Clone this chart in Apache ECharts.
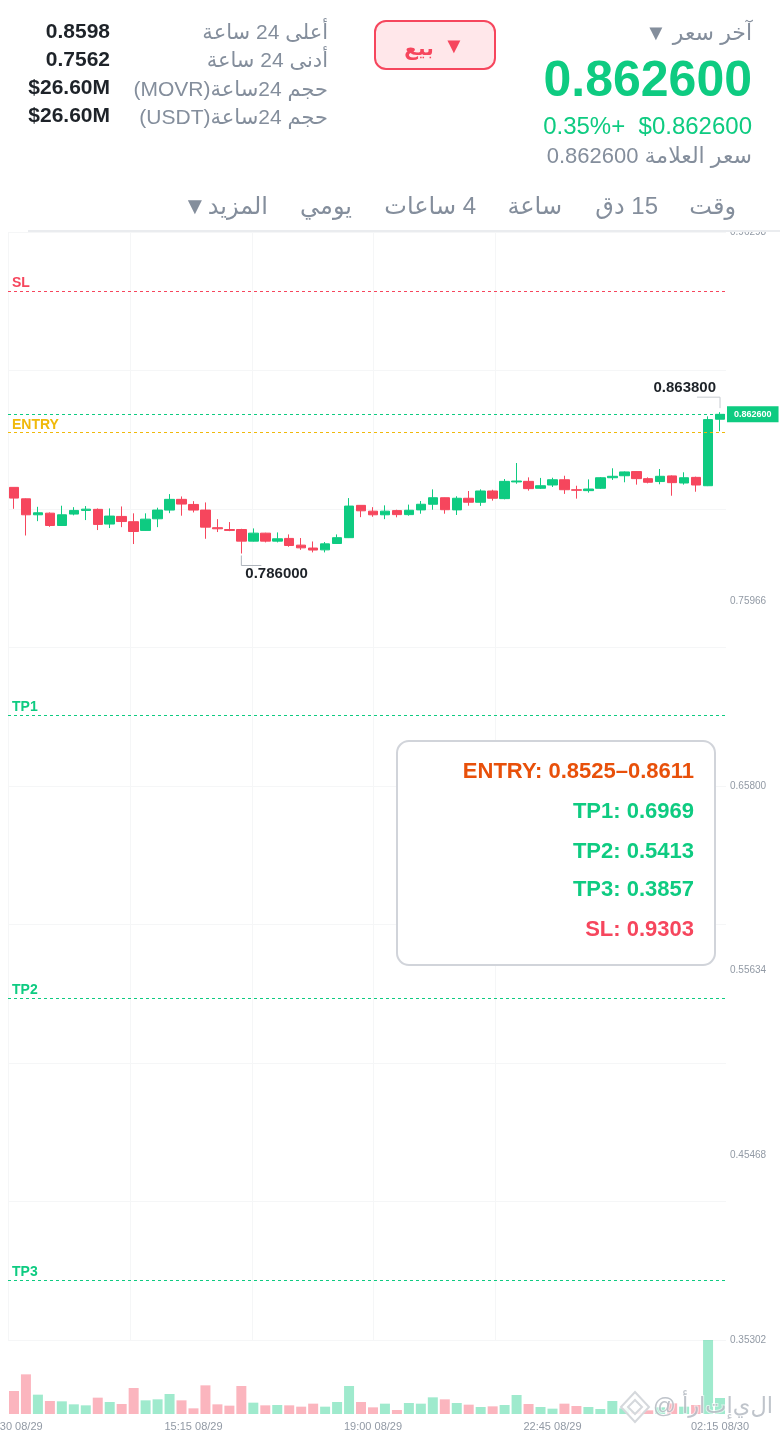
<!DOCTYPE html>
<html dir="rtl"><head><meta charset="utf-8">
<style>html,body{margin:0;padding:0;background:#fff}#c{width:780px;height:1432px}</style>
<script src="https://cdn.jsdelivr.net/npm/echarts@6/dist/echarts.min.js"></script>
</head><body><div id="c"></div>
<script>
const categories=["11:30 08/29","11:45 08/29","12:00 08/29","12:15 08/29","12:30 08/29","12:45 08/29","13:00 08/29","13:15 08/29","13:30 08/29","13:45 08/29","14:00 08/29","14:15 08/29","14:30 08/29","14:45 08/29","15:00 08/29","15:15 08/29","15:30 08/29","15:45 08/29","16:00 08/29","16:15 08/29","16:30 08/29","16:45 08/29","17:00 08/29","17:15 08/29","17:30 08/29","17:45 08/29","18:00 08/29","18:15 08/29","18:30 08/29","18:45 08/29","19:00 08/29","19:15 08/29","19:30 08/29","19:45 08/29","20:00 08/29","20:15 08/29","20:30 08/29","20:45 08/29","21:00 08/29","21:15 08/29","21:30 08/29","21:45 08/29","22:00 08/29","22:15 08/29","22:30 08/29","22:45 08/29","23:00 08/29","23:15 08/29","23:30 08/29","23:45 08/29","00:00 08/30","00:15 08/30","00:30 08/30","00:45 08/30","01:00 08/30","01:15 08/30","01:30 08/30","01:45 08/30","02:00 08/30","02:15 08/30"];
const opens=[.8224,.8161,.8073,.8082,.8014,.8077,.8097,.8103,.8022,.8064,.8035,.7987,.8051,.8099,.8158,.8130,.8099,.8002,.7992,.7992,.7928,.7972,.7928,.7943,.7906,.7890,.7880,.7915,.7947,.8125,.8093,.8073,.8096,.8074,.8100,.8131,.8167,.8100,.8164,.8142,.8204,.8162,.8254,.8257,.8219,.8237,.8266,.8211,.8206,.8219,.8277,.8288,.8311,.8272,.8256,.8287,.8248,.8279,.8233,.8599];
const closes=[.8165,.8073,.8084,.8014,.8073,.8097,.8104,.8020,.8066,.8036,.7981,.8049,.8099,.8158,.8132,.8099,.8005,.7996,.7987,.7928,.7972,.7928,.7941,.7904,.7891,.7879,.7913,.7947,.8121,.8095,.8073,.8093,.8074,.8098,.8131,.8167,.8101,.8164,.8142,.8204,.8164,.8257,.8259,.8217,.8233,.8266,.8211,.8208,.8215,.8277,.8285,.8309,.8272,.8252,.8285,.8250,.8277,.8237,.8597,.8626];
const lows=[.8106,.7959,.8038,.8007,.8013,.8070,.8044,.7989,.8000,.8005,.7912,.7985,.8005,.8082,.8068,.8086,.7941,.7978,.7983,.7860,.7926,.7921,.7921,.7897,.7880,.7866,.7866,.7913,.7945,.8060,.8062,.8049,.8059,.8068,.8079,.8101,.8079,.8072,.8123,.8122,.8151,.8158,.8244,.8206,.8215,.8226,.8188,.8162,.8195,.8215,.8265,.8252,.8239,.8246,.8241,.8178,.8239,.8200,.8231,.8533];
const highs=[.8224,.8163,.8117,.8086,.8123,.8115,.8121,.8108,.8108,.8119,.8081,.8081,.8112,.8187,.8174,.8148,.8141,.8049,.8033,.7996,.7998,.7974,.7976,.7965,.7945,.7926,.7923,.7965,.8165,.8126,.8115,.8125,.8101,.8129,.8149,.8213,.8168,.8175,.8204,.8213,.8211,.8270,.8358,.8279,.8276,.8277,.8288,.8233,.8268,.8281,.8329,.8312,.8312,.8279,.8325,.8290,.8307,.8283,.8615,.8638];
const volumes=[69,119,58,39,38,29,26,49,36,30,78,41,44,60,41,17,86,29,25,84,34,26,27,26,22,31,22,36,84,36,20,31,12,33,31,50,44,33,28,21,23,27,57,30,21,16,31,24,21,15,39,17,19,11,20,32,22,27,222,48];
const priceTicks=[0.35302,0.45468,0.55634,0.658,0.75966,0.96298];
const gridTicks=[0.35302,0.429265,0.50551,0.581755,0.658,0.734245,0.81049,0.886735,0.96298];
const timeTickIndex=[0,15,30,45,59];
const vGridTicks=[0,122,244,365,487,609];
const levels=[["SL",0.9303],["ENTRY",0.8525],["TP1",0.6969],["TP2",0.5413],["TP3",0.3857]];
const lastPrice=0.8626;
const highPrice=0.8638, lowPrice=0.7860;
const statLabels=["أعلى 24 ساعة","أدنى 24 ساعة","حجم 24ساعة(MOVR)","حجم 24ساعة(USDT)"];
const statValues=["0.8598","0.7562","$26.60M","$26.60M"];
const tabs=["وقت","15 دق","ساعة","4 ساعات","يومي","المزيد"];
const boxLines=["ENTRY: 0.8525–0.8611","TP1: 0.6969","TP2: 0.5413","TP3: 0.3857","SL: 0.9303"];

const UP='#0ECB81',DOWN='#F6465D',YEL='#F0B90B',GRAY='#848E9C',DARK='#1E2329',GRID='#F5F6F7';
const FF='"Liberation Sans","DejaVu Sans",sans-serif';
const levelColor={SL:DOWN,ENTRY:YEL,TP1:UP,TP2:UP,TP3:UP};
const chart=echarts.init(document.getElementById('c'),null,{renderer:'canvas'});
const lineLabel=(n)=>({show:true,position:'insideStartTop',distance:[4,1],formatter:n,color:levelColor[n],fontFamily:FF,fontSize:14,fontWeight:'bold'});
chart.setOption({
 animation:false,backgroundColor:'#fff',
 textStyle:{fontFamily:FF},
 grid:[{left:8,top:232,width:718,height:1108,outerBoundsMode:'none'},{left:8,top:1340,width:718,height:74,outerBoundsMode:'none'}],
 xAxis:[
  {type:'category',gridIndex:0,data:categories,axisLine:{show:false},axisTick:{show:false},axisLabel:{show:false},splitLine:{show:false}},
  {type:'category',gridIndex:1,data:categories,axisLine:{show:false},axisTick:{show:false},splitLine:{show:false},
   axisLabel:{interval:(i)=>timeTickIndex.includes(i),hideOverlap:false,color:'#929AA5',fontSize:11,fontFamily:FF,margin:7,formatter:(v)=>'\u2066'+v+'\u2069'}},
  {type:'value',gridIndex:0,min:0,max:718,axisLine:{show:false},axisLabel:{show:false},axisTick:{show:false,customValues:vGridTicks},splitLine:{show:true,showMinLine:true,showMaxLine:false,lineStyle:{color:GRID,width:1}}}
 ],
 yAxis:[
  {type:'value',gridIndex:0,position:'right',min:0.35302,max:0.96298,axisLine:{show:false},
   axisTick:{show:false,customValues:priceTicks},splitLine:{show:false},
   axisLabel:{customValues:priceTicks,formatter:(v)=>v.toFixed(5),color:'#929AA5',fontSize:10,fontFamily:FF,margin:4,showMinLabel:true,showMaxLabel:true}},
  {type:'value',gridIndex:0,position:'left',min:0.35302,max:0.96298,axisLine:{show:false},axisLabel:{show:false},
   axisTick:{show:false,customValues:gridTicks},splitLine:{show:true,showMinLine:true,showMaxLine:true,lineStyle:{color:GRID,width:1}}},
  {type:'value',gridIndex:1,min:0,max:222,show:false,splitLine:{show:false}}
 ],
 series:[
  {type:'candlestick',name:'MOVR',xAxisIndex:0,yAxisIndex:0,barWidth:10,z:3,
   data:categories.map((_,i)=>[opens[i],closes[i],lows[i],highs[i]]),
   itemStyle:{color:UP,color0:DOWN,borderColor:UP,borderColor0:DOWN,borderWidth:1},
   markLine:{silent:true,symbol:'none',animation:false,precision:6,
    data:[
     ...levels.map(([n,v])=>({yAxis:v,lineStyle:{color:levelColor[n],type:[3,3],width:1,opacity:1},label:lineLabel(n)})),
     {yAxis:lastPrice,lineStyle:{color:UP,type:[3,3],width:1},
      label:{show:true,position:'end',distance:1,formatter:'0.862600',color:'#fff',backgroundColor:UP,fontFamily:FF,fontSize:9,fontWeight:'bold',padding:[3,7,3,7],lineHeight:10}}
    ]}},
  {type:'bar',name:'Volume',xAxisIndex:1,yAxisIndex:2,barWidth:10,z:2,
   data:volumes.map((v,i)=>({value:v,itemStyle:{color:closes[i]>=opens[i]?'rgba(14,203,129,0.4)':'rgba(246,70,93,0.4)'}}))}
 ]
});
const hi=highs.indexOf(highPrice), lo=lows.indexOf(lowPrice);
const H=chart.convertToPixel({seriesIndex:0},[hi,highPrice]);
const L=chart.convertToPixel({seriesIndex:0},[lo,lowPrice]);
const T=(text,x,y,fs,fill,align,weight,extra)=>({type:'text',z:100,style:Object.assign({text,x,y,fill,font:(weight||'normal')+' '+fs+'px '+FF,align:align||'right',verticalAlign:'middle'},extra||{})});
const g=[];
g.push({type:'rect',z:99,shape:{x:0,y:0,width:780,height:231},style:{fill:'#fff'}});
g.push({type:'rect',z:100,shape:{x:28,y:230,width:752,height:2},style:{fill:'#EAECEF'}});
const statY=[33,61,90,118];
statLabels.forEach((s,i)=>{g.push(T(s,328,statY[i],21,GRAY));});
const statValY=[32,60,88,116];
statValues.forEach((s,i)=>{g.push(T(s,110,statValY[i],21,DARK,'right','bold'));});
g.push({type:'rect',z:100,shape:{x:375,y:21,width:120,height:48,r:11},style:{fill:'#FFE7EA',stroke:DOWN,lineWidth:2}});
g.push(T('▼',454,47,22,DOWN,'center'));
g.push(T('بيع',419,49,20,DOWN,'center','bold'));
g.push(T('آخر سعر ▼',752,34,22,GRAY));
g.push(T('0.862600',752,82,50,UP,'right','bold'));
g.push(T('$0.862600  +0.35%',752,127,24,UP));
g.push(T('سعر العلامة 0.862600',752,157,22,GRAY));
const tabX=[736,658,562,476,352,268];
tabs.forEach((s,i)=>g.push(T(s,tabX[i],207,24,GRAY)));
g.push(T('▼',195,207,24,GRAY,'center'));
// annotations tied to data extremes
g.push({type:'polyline',z:50,shape:{points:[[L[0],L[1]+2],[L[0],L[1]+12],[L[0]+20,L[1]+12]]},style:{stroke:'#AEB4BC',fill:null,lineWidth:1}});
g.push(T('0.786000',L[0]+4,L[1]+20,15,DARK,'left','bold'));
g.push({type:'polyline',z:50,shape:{points:[[H[0]-23,H[1]-15],[H[0],H[1]-15],[H[0],H[1]-4]]},style:{stroke:'#C6CACF',fill:null,lineWidth:1}});
g.push(T('0.863800',H[0]-4,H[1]-24,15,DARK,'right','bold'));
// info box
g.push({type:'rect',z:60,shape:{x:397,y:741,width:318,height:224,r:12},style:{fill:'#fff',stroke:'#D1D4DA',lineWidth:2}});
const boxY=[772,812,852,890,930],boxC=['#E8500A',UP,UP,UP,DOWN];
boxLines.forEach((s,i)=>g.push(T(s,694,boxY[i],22,boxC[i],'right','bold')));
// watermark
g.push({type:'polygon',z:70,shape:{points:[[635,1392],[649,1407],[635,1422],[621,1407]]},style:{fill:'rgba(255,255,255,0.85)',stroke:'#D5D8DC',lineWidth:2}});
g.push({type:'polygon',z:71,shape:{points:[[635,1400],[642,1407],[635,1414],[628,1407]]},style:{fill:'rgba(255,255,255,0.9)',stroke:'#D5D8DC',lineWidth:2}});
g.push(T('\u0627\u200c\u0644\u200c\u064a\u200c\u0625\u200c\u062a\u200c\u0627\u200c\u0631\u200c\u0623 @',773,1407,22.5,'rgba(170,176,186,0.75)','right','normal',{stroke:'rgba(255,255,255,0.6)',lineWidth:2}));
chart.setOption({graphic:g});
</script></body></html>
